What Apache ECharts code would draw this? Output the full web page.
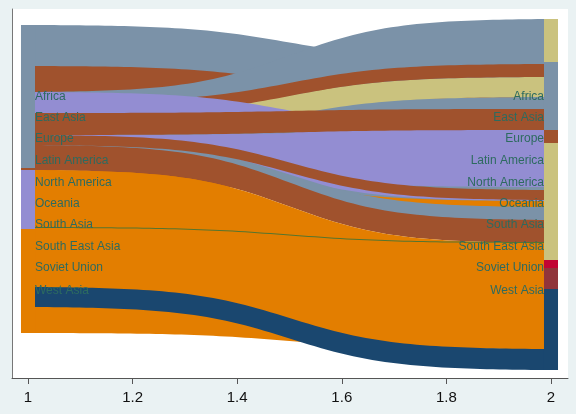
<!DOCTYPE html>
<html>
<head>
<meta charset="utf-8">
<script src="https://cdn.jsdelivr.net/npm/echarts@6/dist/echarts.min.js"></script>
<style>
html,body{margin:0;padding:0;background:#eaf2f3;}
#chart{width:576px;height:414px;}
</style>
</head>
<body>
<div id="chart"></div>
<script>
// stages on the x axis
var stages = [1, 2];
var tickValues = [1, 1.2, 1.4, 1.6, 1.8, 2];

// region labels and their heights
var regions = ['Africa', 'East Asia', 'Europe', 'Latin America', 'North America', 'Oceania',
  'South Asia', 'South East Asia', 'Soviet Union', 'West Asia'];
var labelLevels = [28.1, 26.0, 23.9, 21.7, 19.5, 17.4, 15.3, 13.1, 11.0, 8.7];

// flows, drawn back to front: upper / lower edge at stage 1 and at stage 2
var flowFromTop    = [14.9, 35.3, 31.2, 28.6, 25.3, 26.4, 27.6, 28.6, 24.3, 22.8, 20.8, 23.6, 24.3, 23.3, 26.5, 20.8, 15.1, 9.1];
var flowFromBottom = [ 4.5, 21.0, 28.6, 24.1, 24.1, 24.4, 26.3, 26.5, 20.8, 22.1, 19.8, 21.6, 23.3, 20.8, 24.3,  9.1, 15.0, 7.1];
var flowToTop      = [13.3, 31.8, 28.1, 35.9, 28.1, 30.1, 31.4, 24.9, 24.7, 18.2, 17.7, 17.1, 18.8, 15.8, 26.9, 13.5, 13.6, 2.9];
var flowToBottom   = [ 2.9, 17.5, 25.5, 31.4, 26.9, 28.1, 30.1, 22.8, 19.1, 17.7, 16.7, 15.6, 17.8, 13.5, 24.8,  2.9, 13.5, 0.8];

// node blocks at stage 1 and stage 2
var leftNodeTop     = [35.3, 21.0, 20.8, 14.9];
var leftNodeBottom  = [21.0, 20.8, 14.9, 4.5];
var rightNodeTop    = [35.9, 31.6, 24.8, 23.5, 11.8, 11.0, 8.9];
var rightNodeBottom = [31.6, 24.8, 23.5, 11.8, 11.0, 8.9, 0.8];

// colours (Stata s2color)
var C = {navy:'#1a476f', maroon:'#90353b', green:'#55752f', orange:'#e37e00', cran:'#c10534',
  lav:'#938dd2', khaki:'#cac27e', sienna:'#a0522d', blue:'#7b92a8'};
var flowColor = [C.orange, C.blue, C.sienna, C.blue, C.blue, C.khaki, C.sienna, C.lav, C.lav, C.lav,
  C.orange, C.blue, C.sienna, C.sienna, C.sienna, C.orange, C.green, C.navy];
var leftNodeColor = [C.blue, C.sienna, C.lav, C.orange];
var rightNodeColor = [C.khaki, C.blue, C.sienna, C.khaki, C.cran, C.maroon, C.navy];

var HALF = 0.0134; // half width of a node block

function sig(t) {
  var a = 1 / (1 + Math.exp(5));
  var f = 1 / (1 + Math.exp(-10 * (t - 0.5)));
  return (f - a) / (1 - 2 * a);
}

var flowData = flowFromTop.map(function (v, i) {
  return [stages[0], v, flowFromBottom[i], stages[1], flowToTop[i], flowToBottom[i]];
});
var nodeData = [];
leftNodeTop.forEach(function (v, i) { nodeData.push([stages[0], v, leftNodeBottom[i], leftNodeColor[i]]); });
rightNodeTop.forEach(function (v, i) { nodeData.push([stages[1], v, rightNodeBottom[i], rightNodeColor[i]]); });
var labelData = [];
regions.forEach(function (r, i) {
  labelData.push([stages[0], labelLevels[i], r]);
  labelData.push([stages[1], labelLevels[i], r]);
});

var chart = echarts.init(document.getElementById('chart'));
chart.setOption({
  backgroundColor: '#eaf2f3',
  animation: false,
  grid: {left: 12, right: 8, top: 9, bottom: 36, show: true, backgroundColor: '#fff', borderWidth: 0},
  xAxis: {
    type: 'value', min: 0.96941, max: 2.0325,
    axisLine: {show: true, onZero: false, lineStyle: {color: '#555', width: 1}},
    axisTick: {show: true, length: 6, customValues: tickValues, lineStyle: {color: '#555'}},
    axisLabel: {customValues: tickValues, margin: 12, color: '#111', fontSize: 15,
      fontFamily: 'Liberation Sans, Arial', formatter: function (v) { return String(v); }},
    splitLine: {show: false}
  },
  yAxis: {
    type: 'value', min: 0, max: 36.9,
    axisLine: {show: true, lineStyle: {color: '#777'}},
    axisTick: {show: false}, axisLabel: {show: false}, splitLine: {show: false}
  },
  series: [
    {
      type: 'custom', data: flowData, silent: true,
      encode: {x: [0, 3], y: [1, 2, 4, 5]},
      renderItem: function (params, api) {
        var x0 = api.value(0) + HALF, x1 = api.value(3) - HALF;
        var t0 = api.value(1), b0 = api.value(2), t1 = api.value(4), b1 = api.value(5);
        var top = [], bot = [];
        for (var i = 0; i <= 80; i++) {
          var t = i / 80, s = sig(t), x = x0 + (x1 - x0) * t;
          top.push(api.coord([x, t0 + (t1 - t0) * s]));
          bot.push(api.coord([x, b0 + (b1 - b0) * s]));
        }
        return {type: 'polygon', shape: {points: top.concat(bot.reverse())},
          style: {fill: flowColor[params.dataIndex]}};
      }
    },
    {
      type: 'custom', data: nodeData, silent: true,
      encode: {x: 0, y: [1, 2]},
      renderItem: function (params, api) {
        var d = nodeData[params.dataIndex];
        var p0 = api.coord([api.value(0) - HALF, api.value(1)]);
        var p1 = api.coord([api.value(0) + HALF, api.value(2)]);
        return {type: 'rect', shape: {x: p0[0], y: p0[1], width: p1[0] - p0[0], height: p1[1] - p0[1]},
          style: {fill: d[3]}};
      }
    },
    {
      type: 'custom', data: labelData, silent: true, z: 5,
      encode: {x: 0, y: 1},
      renderItem: function (params, api) {
        var d = labelData[params.dataIndex];
        var left = d[0] === stages[0];
        var p = api.coord([left ? d[0] + HALF : d[0] - HALF, api.value(1)]);
        return {type: 'text', x: p[0], y: p[1],
          style: {text: d[2], fill: '#2d6b5f', font: '12px "Liberation Sans", Arial',
            align: left ? 'left' : 'right', verticalAlign: 'middle'}};
      }
    }
  ]
});
</script>
</body>
</html>
